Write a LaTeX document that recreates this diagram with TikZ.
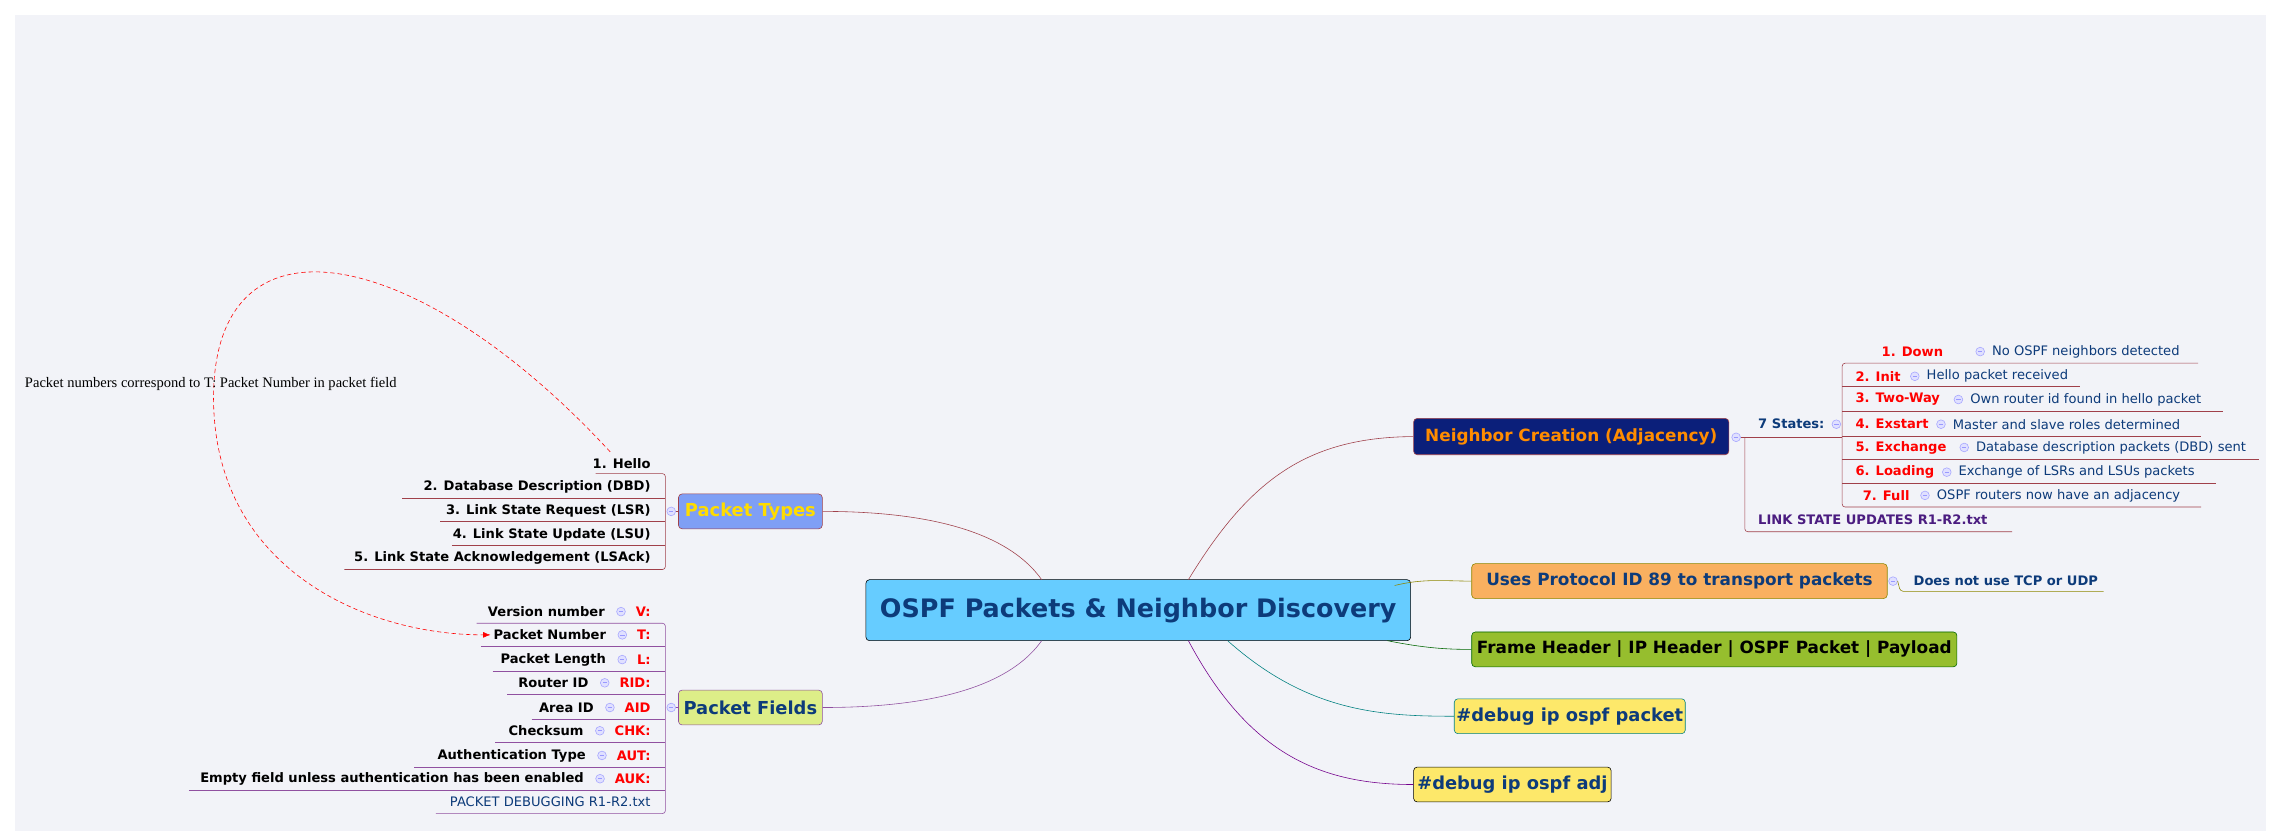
\documentclass[tikz,border=0pt]{standalone}
\usepackage{fontspec}
\setmainfont{DejaVu Sans}
\newfontfamily\serifann{Liberation Serif}
\usetikzlibrary{arrows.meta}
\definecolor{bg}{HTML}{F2F3F8}
\definecolor{dblue}{HTML}{0D3B7A}
\definecolor{ptred}{HTML}{A0404A}
\definecolor{pfpur}{HTML}{9050A0}
\definecolor{ored}{HTML}{FF0000}
\tikzset{
 x=1pt,y=-1pt,
 mnode/.style={draw=#1!60!black,rounded corners=2.5pt,inner sep=0pt,font=\bfseries\fontsize{11.6}{14}\selectfont},
 lbl/.style={inner sep=0pt,font=\bfseries\fontsize{9}{10}\selectfont},
 nlbl/.style={inner sep=0pt,font=\fontsize{9}{10}\selectfont,text=dblue},
 ico/.style={circle,draw=blue!35,fill=blue!12,inner sep=0pt,minimum size=6pt},
}
\newcommand{\ic}[2]{\node[ico] (#1) at (#2) {}; \draw[blue!40,line width=0.5pt] ([xshift=-1.5pt]#1.center)--([xshift=1.5pt]#1.center);}
\begin{document}
\begin{tikzpicture}
\useasboundingbox (0,0) rectangle (1568,572);
\fill[white] (0,0) rectangle (1568,572);
\fill[bg] (10,10) rectangle (1560,572);

% central
\node[mnode=blue,fill={rgb,255:red,102;green,204;blue,255},draw=black,minimum width=375pt,minimum height=42pt,font=\bfseries\fontsize{17.5}{21}\selectfont,text=dblue] (c) at (783.5,420) {OSPF Packets \& Neighbor Discovery};

\node[mnode=blue,fill={rgb,255:red,127;green,159;blue,245},draw=ptred,minimum width=99pt,minimum height=24pt,font=\bfseries\fontsize{12.3}{15}\selectfont,text={rgb,255:red,255;green,220;blue,0}] (pt) at (516.5,352) {Packet Types};
\node[mnode=blue,fill={rgb,255:red,221;green,238;blue,136},draw=pfpur,minimum width=99pt,minimum height=24pt,font=\bfseries\fontsize{12.3}{15}\selectfont,text=dblue] (pf) at (516.5,487) {Packet Fields};
\node[mnode=blue,fill={rgb,255:red,11;green,31;blue,122},draw=ptred,minimum width=217pt,minimum height=25pt,text={rgb,255:red,255;green,140;blue,0}] (nc) at (1081.5,300.5) {Neighbor Creation (Adjacency)};
\node[mnode=blue,fill={rgb,255:red,249;green,176;blue,96},draw=olive,minimum width=286pt,minimum height=24pt,text=dblue] (up) at (1156,400) {Uses Protocol ID 89 to transport packets};
\node[mnode=blue,fill={rgb,255:red,150;green,190;blue,46},draw=green!40!black,minimum width=334pt,minimum height=24pt,text=black] (fh) at (1180,447) {Frame Header | IP Header | OSPF Packet | Payload};
\node[mnode=blue,fill={rgb,255:red,253;green,232;blue,106},draw=teal,minimum width=159pt,minimum height=24pt,text=dblue,font=\bfseries\fontsize{12.3}{15}\selectfont] (dp) at (1080.5,493) {\#debug ip ospf packet};
\node[mnode=blue,fill={rgb,255:red,253;green,232;blue,106},draw=black,minimum width=136pt,minimum height=24pt,text=dblue,font=\bfseries\fontsize{12.3}{15}\selectfont] (da) at (1041,540) {\#debug ip ospf adj};

% center connectors
\draw[ptred] (pt.east) .. controls (660,352) and (700,375) .. (717,399);
\draw[pfpur] (pf.east) .. controls (660,487) and (700,465) .. (717,441);
\draw[ptred] (818,399) .. controls (860,330) and (900,301) .. (nc.west);
\draw[olive] (960,403) .. controls (980,398) and (995,400) .. (up.west);
\draw[green!40!black] (955,441) .. controls (980,446) and (995,447) .. (fh.west);
\draw[teal] (845,441) .. controls (900,490) and (950,493) .. (dp.west);
\draw[blue!40!purple] (818,441) .. controls (860,520) and (910,540) .. (da.west);

% packet types children
\ic{ipt}{462,352}
\draw[ptred] (pt.west)--(ipt.east);
\draw[ptred,rounded corners=2pt] (410,326)--(458,326)--(458,392)--(237,392);
\foreach \y/\l in {343/277,359/303,375/311}{\draw[ptred] (\l,\y)--(458,\y);}
\node[lbl,anchor=east] (t1) at (448,319) {1. Hello};
\node[lbl,anchor=east] (t2) at (448,335) {2. Database Description (DBD)};
\node[lbl,anchor=east] (t3) at (448,352) {3. Link State Request (LSR)};
\node[lbl,anchor=east] (t4) at (448,368) {4. Link State Update (LSU)};
\node[lbl,anchor=east] (t5) at (448,384) {5. Link State Acknowledgement (LSAck)};

% packet fields children
\ic{ipf}{462,487}
\draw[pfpur] (pf.west)--(ipf.east);
\draw[pfpur,rounded corners=2pt] (328,429)--(458,429)--(458,560)--(300,560);
\foreach \y/\l in {445/331,462/339,478/349,495/366,511/341,528/285,544/130}{\draw[pfpur] (\l,\y)--(458,\y);}
\foreach \n/\y/\nm/\cd in {f1/421/Version number/V:,f2/437/Packet Number/T:,f3/454/Packet Length/L:,f4/470/Router ID/RID:,f5/487/Area ID/AID,f6/503/Checksum/CHK:,f7/520/Authentication Type/AUT:,f8/536/Empty field unless authentication has been enabled/AUK:}{
  \node[lbl,anchor=east,text=ored] (\n c) at (448,\y) {\cd};
  \node[ico] (\n i) at ([xshift=-10pt]\n c.west) {};
  \draw[blue!40,line width=0.5pt] ([xshift=-1.5pt]\n i.center)--([xshift=1.5pt]\n i.center);
  \node[lbl,anchor=east] (\n n) at ([xshift=-11pt]\n i.center) {\nm};
}
\node[nlbl,anchor=east] (f9) at (448,552) {PACKET DEBUGGING R1-R2.txt};

% dashed annotation
\coordinate (hs) at (420,311);
\draw[red,densely dashed,-{Latex[length=5pt,width=4pt]}] (hs) .. controls (290,170) and (150,140) .. (147,270) .. controls (145,390) and (250,437) .. ([xshift=-2pt]f2n.west);
\node[anchor=west,inner sep=0pt,font=\serifann\fontsize{10}{11}\selectfont] (ann) at (17,264) {Packet numbers correspond to T: Packet Number in packet field};

% neighbor children
\ic{inc}{1195,301}
\draw[ptred,rounded corners=2pt] (inc.east)--(1268,301);
\draw[ptred,rounded corners=2pt] (1201,301)--(1201,366)--(1385,366);
\node[lbl,anchor=west,text=dblue] (st) at (1210,292) {7 States:};
\ic{ist}{1264,292}
\draw[ptred,rounded corners=2pt] (1513,250)--(1268,250)--(1268,349)--(1515,349);
\foreach \y/\r in {266/1432,283/1530,300/1515,316/1555,333/1525}{\draw[ptred] (1268,\y)--(\r,\y);}
\foreach \n/\x/\y/\nm/\ix/\ds in {s1/1295/242/1. Down/1363/No OSPF neighbors detected,s2/1277/259/2. Init/1318/Hello packet received,s3/1277/275/3. Two-Way/1348/Own router id found in hello packet,s4/1277/292/4. Exstart/1336/Master and slave roles determined,s5/1277/308/5. Exchange/1352/Database description packets (DBD) sent,s6/1277/325/6. Loading/1340/Exchange of LSRs and LSUs packets,s7/1282/341/7. Full/1325/OSPF routers now have an adjacency}{
  \node[lbl,anchor=west,text=ored] (\n) at (\x,\y) {\nm};
  \node[ico] (\n i) at (\ix,\y) {};
  \draw[blue!40,line width=0.5pt] ([xshift=-1.5pt]\n i.center)--([xshift=1.5pt]\n i.center);
  \node[nlbl,anchor=west] (\n d) at ([xshift=8pt]\n i.center) {\ds};
}
\node[lbl,anchor=west,text={rgb,255:red,75;green,28;blue,128}] (ls) at (1210,358) {LINK STATE UPDATES R1-R2.txt};

% uses protocol child
\ic{iup}{1303,400}
\draw[olive,rounded corners=2pt] (iup.east)--(1308,407)--(1448,407);
\node[lbl,anchor=west,text=dblue] (nu) at (1317,400) {Does not use TCP or UDP};
\end{tikzpicture}
\end{document}
